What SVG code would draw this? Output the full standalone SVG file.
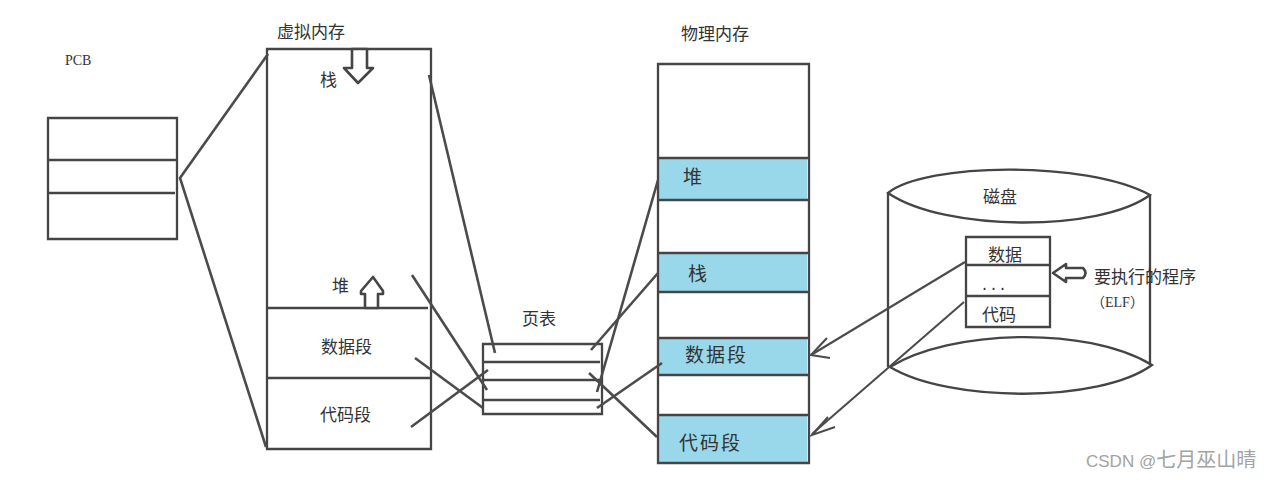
<svg xmlns="http://www.w3.org/2000/svg" width="1272" height="480" viewBox="0 0 1272 480">
<defs>
<filter id="soft" x="-10%" y="-10%" width="120%" height="120%"><feGaussianBlur stdDeviation="0.7"/></filter>
</defs>
<style>
text{font-family:"Noto Sans CJK SC","Liberation Sans",sans-serif;fill:#333;font-size:17px}
.l{fill:none;stroke:#444;stroke-width:2.3;filter:url(#soft)}
.c{fill:none;stroke:#4c4c4c;stroke-width:2.6;filter:url(#soft)}
.a{fill:none;stroke:#4c4c4c;stroke-width:2.1;filter:url(#soft)}
.b{fill:#98d8ea}
.ar{fill:#fff;stroke:#444;stroke-width:2.6;stroke-linejoin:round;filter:url(#soft)}
.p{font-size:19px;letter-spacing:2px}
</style>
<rect width="1272" height="480" fill="#fff"/>
<g id="pcb">
<text x="65" y="65" style="font-family:'Liberation Serif',serif;font-size:14px">PCB</text>
<path class="l" d="M48 118H177V239H48ZM48 160H176M48 193H175"/>
</g>
<g id="virtual-memory">
<text x="277" y="38">虚拟内存</text>
<path class="l" d="M267 49H431V449H267ZM266 308H428M267 378H430"/>
<path class="ar" d="M352 49H367V68H373L358 83L344 68H352Z"/>
<text x="320" y="86">栈</text>
<path class="ar" d="M373 277L383 291V294H378V308H365V294H361V291Z"/>
<text x="332" y="292">堆</text>
<text x="321" y="353">数据段</text>
<text x="320" y="421">代码段</text>
</g>
<g id="page-table">
<text x="522" y="325">页表</text>
<path class="l" d="M483 344H602V414H483ZM483 362H600M483 380H600M483 400H600"/>
</g>
<g id="physical-memory">
<rect class="b" x="659" y="158" width="148" height="42"/>
<rect class="b" x="659" y="253" width="148" height="39"/>
<rect class="b" x="659" y="338" width="148" height="37"/>
<rect class="b" x="659" y="415" width="148" height="47"/>
<text x="681" y="40">物理内存</text>
<path class="l" d="M658 64H809V463H658ZM658 158H808M658 200H808M658 253H808M658 292H808M658 338H809M658 375H808M658 415H808"/>
<text class="p" x="683" y="184">堆</text>
<text class="p" x="688" y="281">栈</text>
<text class="p" x="685" y="362">数据段</text>
<text class="p" x="679" y="450">代码段</text>
</g>
<g id="disk">
<path class="l" d="M888 193C925 163 1085 160 1150 195C1100 232 945 232 888 193ZM888 193V367M1150 195V365"/>
<path class="l" d="M890 367C950 330 1085 325 1152 365C1100 403 950 403 890 367Z"/>
<text x="983" y="203">磁盘</text>
<path class="l" d="M966 237H1050V327H966ZM966 265H1050M966 296H1050"/>
<text x="988" y="261">数据</text>
<text x="980" y="290" style="font-family:'Liberation Mono',monospace;font-size:15px">...</text>
<text x="982" y="321">代码</text>
<path class="ar" d="M1053 273L1066 264V268H1083Q1088 273 1083 278H1066V282Z"/>
<text x="1094" y="283">要执行的程序</text>
<text x="1091" y="307" style="font-family:'Liberation Serif','Noto Sans CJK SC',serif;font-size:14px">（ELF）</text>
</g>
<g id="connectors">
<path class="c" d="M268 54L180 178L266 447"/>
<path class="c" d="M429 75L495 353"/>
<path class="c" d="M412 275L487 390"/>
<path class="c" d="M415 358L483 408"/>
<path class="c" d="M411 427L488 370"/>
<path class="c" d="M591 350L658 273"/>
<path class="c" d="M597 392L658 180"/>
<path class="c" d="M589 373L657 437"/>
<path class="c" d="M597 408L662 363"/>
<path class="a" d="M965 262L811 355"/>
<path class="a" d="M827 338L811 355L830 358"/>
<path class="a" d="M964 302L812 434"/>
<path class="a" d="M828 417L812 435L835 427"/>
</g>
<text id="watermark" x="1086" y="467" style="font-family:'Liberation Sans','Noto Sans CJK SC',sans-serif;fill:#a3a3a3;font-size:17px">CSDN @<tspan style="font-size:20px;fill:#a3a3a3">七月巫山晴</tspan></text>
</svg>
